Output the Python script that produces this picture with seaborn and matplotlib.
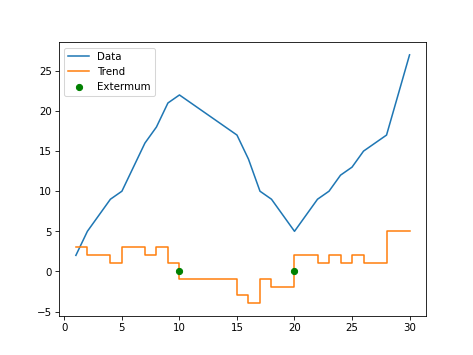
import matplotlib
matplotlib.use("Agg")
import matplotlib.pyplot as plt
import seaborn as sns
import pandas as pd

# data
days = list(range(1, 31))
values = [2, 5, 7, 9, 10, 13, 16, 18, 21, 22,
          21, 20, 19, 18, 17, 14, 10, 9, 7, 5,
          7, 9, 10, 12, 13, 15, 16, 17, 22, 27]
# slope of each segment (last one repeated to close the step at x=30)
trend = [3, 2, 2, 1, 3, 3, 2, 3, 1, -1,
         -1, -1, -1, -1, -3, -4, -1, -2, -2, 2,
         2, 1, 2, 1, 2, 1, 1, 5, 5, 5]
extremum_x = [10, 20]
extremum_y = [0, 0]

df = pd.DataFrame({'x': days, 'data': values, 'trend': trend})

fig, ax = plt.subplots(figsize=(6.4, 4.8), dpi=74)
sns.lineplot(data=df, x='x', y='data', ax=ax, label='Data', color='tab:blue')
sns.lineplot(data=df, x='x', y='trend', ax=ax, label='Trend', color='tab:orange',
             drawstyle='steps-post')
sns.scatterplot(x=extremum_x, y=extremum_y, ax=ax, label='Extermum',
                color='green', edgecolor='green', linewidth=1, s=36, zorder=3)
ax.set_xlabel('')
ax.set_ylabel('')
ax.legend(loc='upper left')
plt.savefig('out.png', dpi=74)
